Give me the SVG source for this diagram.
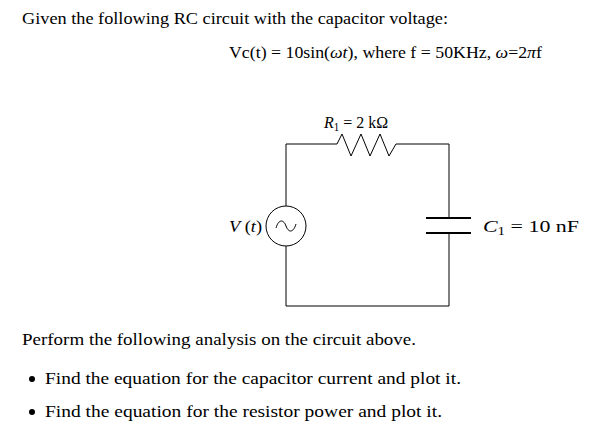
<svg xmlns="http://www.w3.org/2000/svg" width="609" height="442" viewBox="0 0 609 442">
<style>
text{font-family:"Liberation Serif","DejaVu Serif",serif;font-size:17.5px;fill:#000}
.w{fill:none;stroke:#000;stroke-width:1}
.i{font-style:italic}
</style>
<rect width="609" height="442" fill="#fff"/>
<text x="22" y="24" textLength="426" lengthAdjust="spacingAndGlyphs">Given the following RC circuit with the capacitor voltage:</text>
<text x="229" y="58" textLength="313" lengthAdjust="spacingAndGlyphs">Vc(t) = 10sin(<tspan class="i">ωt</tspan>), where f = 50KHz, <tspan class="i">ω</tspan>=2<tspan class="i">π</tspan>f</text>
<g id="connectors">
<path class="w" d="M337,144 H286 V206 M286,246 V306 H449 V233 M449,218 V144 H396"/>
</g>
<g id="R1">
<polyline class="w" points="337,144 342,134 351,156 361,134 370,156 380,134 389,156 396,144"/>
<text x="324" y="128" textLength="64" lengthAdjust="spacingAndGlyphs"><tspan class="i">R</tspan><tspan font-size="12" dy="3">1</tspan><tspan dy="-3"> = 2 kΩ</tspan></text>
</g>
<g id="V">
<circle class="w" cx="286" cy="226" r="20"/>
<path class="w" d="M276,228 C279,218 284,220 286,226 C288,232 293,234 296,224"/>
<text x="229" y="232" textLength="33" lengthAdjust="spacingAndGlyphs"><tspan class="i">V</tspan> (<tspan class="i">t</tspan>)</text>
</g>
<g id="C1">
<path d="M426,218 H471 M426,233 H471" stroke="#000" stroke-width="1.8"/>
<text x="483" y="232" textLength="96" lengthAdjust="spacingAndGlyphs"><tspan class="i">C</tspan><tspan font-size="12" dy="3">1</tspan><tspan dy="-3"> = 10 nF</tspan></text>
</g>
<text x="22" y="345" textLength="394" lengthAdjust="spacingAndGlyphs">Perform the following analysis on the circuit above.</text>
<circle cx="32" cy="379" r="3"/>
<text x="45" y="384" textLength="416" lengthAdjust="spacingAndGlyphs">Find the equation for the capacitor current and plot it.</text>
<circle cx="32" cy="412" r="3"/>
<text x="45" y="417" textLength="397" lengthAdjust="spacingAndGlyphs">Find the equation for the resistor power and plot it.</text>
</svg>
